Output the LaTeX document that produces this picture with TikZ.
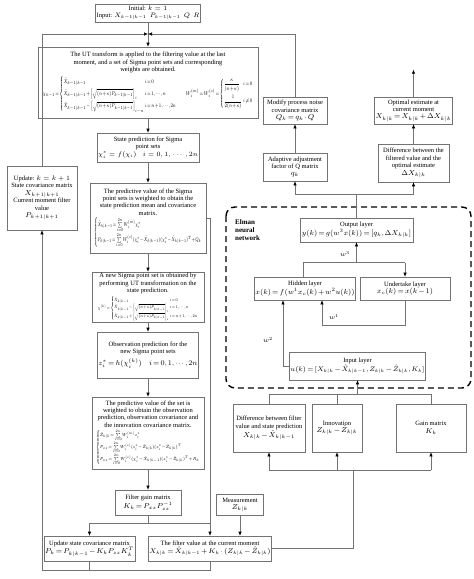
\documentclass[tikz,border=0pt]{standalone}
\usepackage{fix-cm}
\usepackage{amsmath}
\usepackage{graphicx}
\usepackage{fontspec}
\setmainfont{Liberation Serif}
\usetikzlibrary{arrows.meta}
\newcommand{\fitbox}[3]{\resizebox*{#1pt}{#2pt}{\fontsize{6}{7}\selectfont
  \thinmuskip=1mu\medmuskip=1.5mu\thickmuskip=2mu#3}}
\newcommand{\lgm}{\fontsize{7.2}{8.6}\selectfont
  \thinmuskip=1.5mu\medmuskip=2mu\thickmuskip=2.5mu}
\begin{document}
\begin{tikzpicture}[
    x=1pt, y=-1pt,
    font=\fontsize{6.5}{7.4}\selectfont,
    box/.style  = {draw=black!55, line width=0.55pt, align=center, inner sep=1pt},
    link/.style = {draw=black!55, line width=0.55pt},
    arr/.style  = {link, -{Latex[black,length=4pt,width=3.4pt]}},
    lab/.style  = {inner sep=0pt},
    elman/.style = {draw=black, line width=1.4pt, dash pattern=on 6pt off 4pt,
      rounded corners=9pt}
  ]
  \useasboundingbox (0,0) rectangle (474,579);

  \node[box, minimum width=82, minimum height=18] (init) at (148,13)
    {Initial: $k=1$\\ Input: $X_{k-1|k-1}$\ \ $P_{k-1|k-1}$\ \ $Q$\ \ $R$};
  \node[box, minimum width=220, minimum height=71] (ut) at (148,82.5)
    {The UT transform is applied to the filtering value at the last\\
     moment, and a set of Sigma point sets and corresponding\\
     weights are obtained.\\[1pt]
     \fitbox{210}{38}{\renewcommand{\arraystretch}{1.9}%
     $\chi_{k-1}=\left\{\begin{array}{@{}l@{\;\;}l@{}}
       \hat X_{k-1|k-1} & i=0\\
       \hat X_{k-1|k-1}+\left[\sqrt{(n+\kappa)P_{k-1|k-1}}\right]_i & i=1,\cdots,n\\
       \hat X_{k-1|k-1}-\left[\sqrt{(n+\kappa)P_{k-1|k-1}}\right]_{i-n} & i=n+1,\cdots,2n
     \end{array}\right.$\hspace{14pt}%
     \renewcommand{\arraystretch}{1.3}%
     $W_i^{(m)}=W_i^{(c)}=\left\{\begin{array}{@{}l@{\;\;}l@{}}
       \dfrac{\kappa}{(n+\kappa)} & i=0\\[8pt]
       \dfrac{1}{2(n+\kappa)} & i\neq0
     \end{array}\right.$}};
  \node[box, minimum width=84, minimum height=29] (statepred) at (148,147.5)
    {State prediction for Sigma\\ point sets\\
     $\chi_i^{*}=f(\chi_i)\quad i=0,1,\cdots,2n$};
  \node[box, minimum width=116, minimum height=70] (sigmamean) at (148,218)
    {The predictive value of the Sigma\\ point sets is weighted to obtain the\\
     state prediction mean and covariance\\ matrix.\\[1pt]
     \fitbox{108}{30}{\renewcommand{\arraystretch}{1.2}%
     $\left\{\begin{array}{@{}l@{}}
       \hat X_{k|k-1}=\sum\limits_{i=0}^{2n}W_i^{(m)}\chi_i^{*}\\
       P_{k|k-1}=\sum\limits_{i=0}^{2n}W_i^{(c)}(\chi_i^{*}-\hat X_{k|k-1})(\chi_i^{*}-\hat X_{k|k-1})^T+Q_k
     \end{array}\right.$}};
  \node[box, minimum width=112, minimum height=50] (newsigma) at (148,297)
    {A new Sigma point set is obtained by\\ performing UT transformation on the\\
     state prediction.\\[1pt]
     \fitbox{100}{25}{\renewcommand{\arraystretch}{1.6}%
     $\chi^{(k)}=\left\{\begin{array}{@{}l@{\;\;}l@{}}
       \hat X_{k|k-1} & i=0\\
       \hat X_{k|k-1}-\left[\sqrt{(n+\kappa)P_{k|k-1}}\right]_i & i=1,\cdots,n\\
       \hat X_{k|k-1}+\left[\sqrt{(n+\kappa)P_{k|k-1}}\right]_i & i=n+1,\cdots,2n
     \end{array}\right.$}};
  \node[box, minimum width=88, minimum height=46] (obspred) at (148,355)
    {Observation prediction for the\\ new Sigma point sets\\[2pt]
     \lgm$z_i^{*}=h(\chi_i^{(k)})\quad i=0,1,\cdots,2n$};
  \node[box, minimum width=112, minimum height=72] (obsmean) at (148,433)
    {The predictive value of the set is\\ weighted to obtain the observation\\
     prediction, observation covariance and\\ the innovation covariance matrix.\\[1pt]
     \fitbox{104}{36}{\renewcommand{\arraystretch}{1.1}%
     $\left\{\begin{array}{@{}l@{}}
       \hat Z_{k|k}=\sum\limits_{i=0}^{2n}W_i^{(m)}z_i^{*}\\
       P_{zz}=\sum\limits_{i=0}^{2n}W_i^{(c)}(z_i^{*}-\hat Z_{k|k})(z_i^{*}-\hat Z_{k|k})^T\\
       P_{xz}=\sum\limits_{i=0}^{2n}W_i^{(c)}(\chi_i^{*}-\hat X_{k|k-1})(z_i^{*}-\hat Z_{k|k})^T+R_k
     \end{array}\right.$}};
  \node[box, minimum width=66, minimum height=25] (gain) at (148,502.5)
    {Filter gain matrix\\ \lgm$K_k=P_{xz}P_{zz}^{-1}$};
  \node[box, minimum width=47, minimum height=21] (meas) at (240,505)
    {Measurement\\ \lgm$Z_{k|k}$};
  \node[box, minimum width=83, minimum height=25] (updcov) at (89.5,548.5)
    {Update state covariance matrix\\ \lgm$P_k=P_{k|k-1}-K_kP_{zz}K_k^T$};
  \node[box, minimum width=106, minimum height=25] (filtval) at (210,548.5)
    {The filter value at the current moment\\
     \lgm\fontsize{6.8}{8}\selectfont$X_{k|k}=\hat X_{k|k-1}+K_k\cdot(Z_{k|k}-\hat Z_{k|k})$};
  \node[box, minimum width=70, minimum height=64] (update) at (42,198)
    {Update: $k=k+1$\\ State covariance matrix\\ \lgm$X_{k+1|k+1}$\\
     Current moment filter\\ value\\ \lgm$P_{k+1|k+1}$};

  \node[box, minimum width=64, minimum height=27] (modify) at (295,110.5)
    {Modify process noise\\ covariance matrix\\ \lgm$Q_k=q_k\cdot Q$};
  \node[box, minimum width=64, minimum height=28] (adapt) at (295,167)
    {Adaptive adjustment\\ factor of Q matrix\\ \lgm$q_k$};
  \node[box, minimum width=71, minimum height=27] (optimal) at (413.5,110.5)
    {Optimal estimate at\\ current moment\\
     \lgm$X_{k|k}=X_{k|k}+\Delta X_{k|k}$};
  \node[box, minimum width=71, minimum height=38] (diffopt) at (413.5,163)
    {Difference between the\\ filtered value and the\\ optimal estimate\\
     \lgm$\Delta X_{k|k}$};

  \draw[elman] (226,207) rectangle (471,388);
  \node[lab, anchor=north west, align=left, font=\fontsize{7}{8.2}\selectfont\bfseries]
    (elmanlab) at (235,219) {Elman\\ neural\\ network};
  \node[box, minimum width=113, minimum height=24] (output) at (356.5,230)
    {Output layer\\ \lgm$y(k)=g(w^3x(k))=[q_k,\Delta X_{k|k}]$};
  \node[box, minimum width=94, minimum height=23] (hidden) at (305,288.5)
    {Hidden layer\\ \lgm$x(k)=f(w^1x_c(k)+w^2u(k))$};
  \node[box, minimum width=90, minimum height=23] (undertake) at (405,288.5)
    {Undertake layer\\ \lgm$x_c(k)=x(k-1)$};
  \node[box, minimum width=115, minimum height=28] (input) at (357.5,366)
    {Input layer\\
     \lgm\fontsize{6.6}{8}\selectfont$u(k)=[X_{k|k}-\hat X_{k|k-1},Z_{k|k}-\hat Z_{k|k},K_k]$};
  \node[lab] (w1) at (334,317) {$w^1$};
  \node[lab] (w2) at (268,340) {$w^2$};
  \node[lab] (w3) at (345,254) {$w^3$};

  \node[box, minimum width=72, minimum height=48] (diffpred) at (269,428)
    {Difference between filter\\ value and state prediction\\
     \lgm$X_{k|k}-\hat X_{k|k-1}$};
  \node[box, minimum width=50, minimum height=48] (innov) at (337,428)
    {Innovation\\ \lgm$Z_{k|k}-\hat Z_{k|k}$};
  \node[box, minimum width=70, minimum height=48] (gainm) at (431,428)
    {Gain matrix\\ \lgm$K_k$};

  % main column
  \coordinate (top) at (148,34);
  \coordinate (split) at (148,523);
  \draw[link] (init) -- (top);
  \draw[arr] (top) -- (ut);
  \draw[arr] (update.north) |- (top);
  \draw[arr] (modify.north) |- (top);
  \draw[arr] (ut) -- (statepred);
  \draw[arr] (statepred) -- (sigmamean);
  \draw[arr] (sigmamean) -- (newsigma);
  \draw[arr] (newsigma) -- (obspred);
  \draw[arr] (obspred) -- (obsmean);
  \draw[arr] (obsmean) -- (gain);
  \draw[link] (gain) -- (split);
  \draw[arr] (split) -| (updcov.north);
  \draw[arr] (sigmamean.east) -| (filtval.north);
  \draw[link] (split) -- (split -| filtval.north);
  \draw[arr] (meas) -- (meas |- filtval.north);
  \draw[arr] (filtval.south) -- ++(0,9) -| (update.south);
  \draw[link] (updcov.south) -- ++(0,9);

  % elman network
  \coordinate (hubb) at (353,470);
  \coordinate (hubt) at (357,394);
  \draw[link] (filtval.east) -| (hubb);
  \draw[link] (diffpred |- hubb) -- (gainm |- hubb);
  \draw[arr] (diffpred |- hubb) -- (diffpred.south);
  \draw[arr] (innov |- hubb) -- (innov.south);
  \draw[arr] (gainm |- hubb) -- (gainm.south);
  \draw[link] (diffpred.north) -- (diffpred |- hubt) -- (gainm |- hubt) -- (gainm.north);
  \draw[link] (innov.north) -- (innov |- hubt);
  \draw[arr] (input.south |- hubt) -- (input.south);
  \draw[arr] (input.west) -| ([xshift=-22pt]hidden.south);
  \draw[arr] (undertake.south) |- (322,325) -- ([xshift=17pt]hidden.south);
  \draw[link] ([xshift=-2pt]hidden.north) -- ++(0,-14) coordinate (hj)
    -- (hj -| undertake.north);
  \draw[arr] (hj -| undertake.north) -- (undertake.north);
  \draw[arr] (hj -| output.south) -- (output.south);
  \draw[link] (output.north) -- ++(0,-23) coordinate (oj);
  \draw[arr] (oj) -| (adapt.south);
  \draw[arr] (oj) -| (diffopt.south);
  \draw[arr] (adapt) -- (modify);
  \draw[arr] (diffopt) -- (optimal);
  \draw[arr] (optimal.north) -- ++(0,-27) coordinate (outend);
\end{tikzpicture}
\end{document}
